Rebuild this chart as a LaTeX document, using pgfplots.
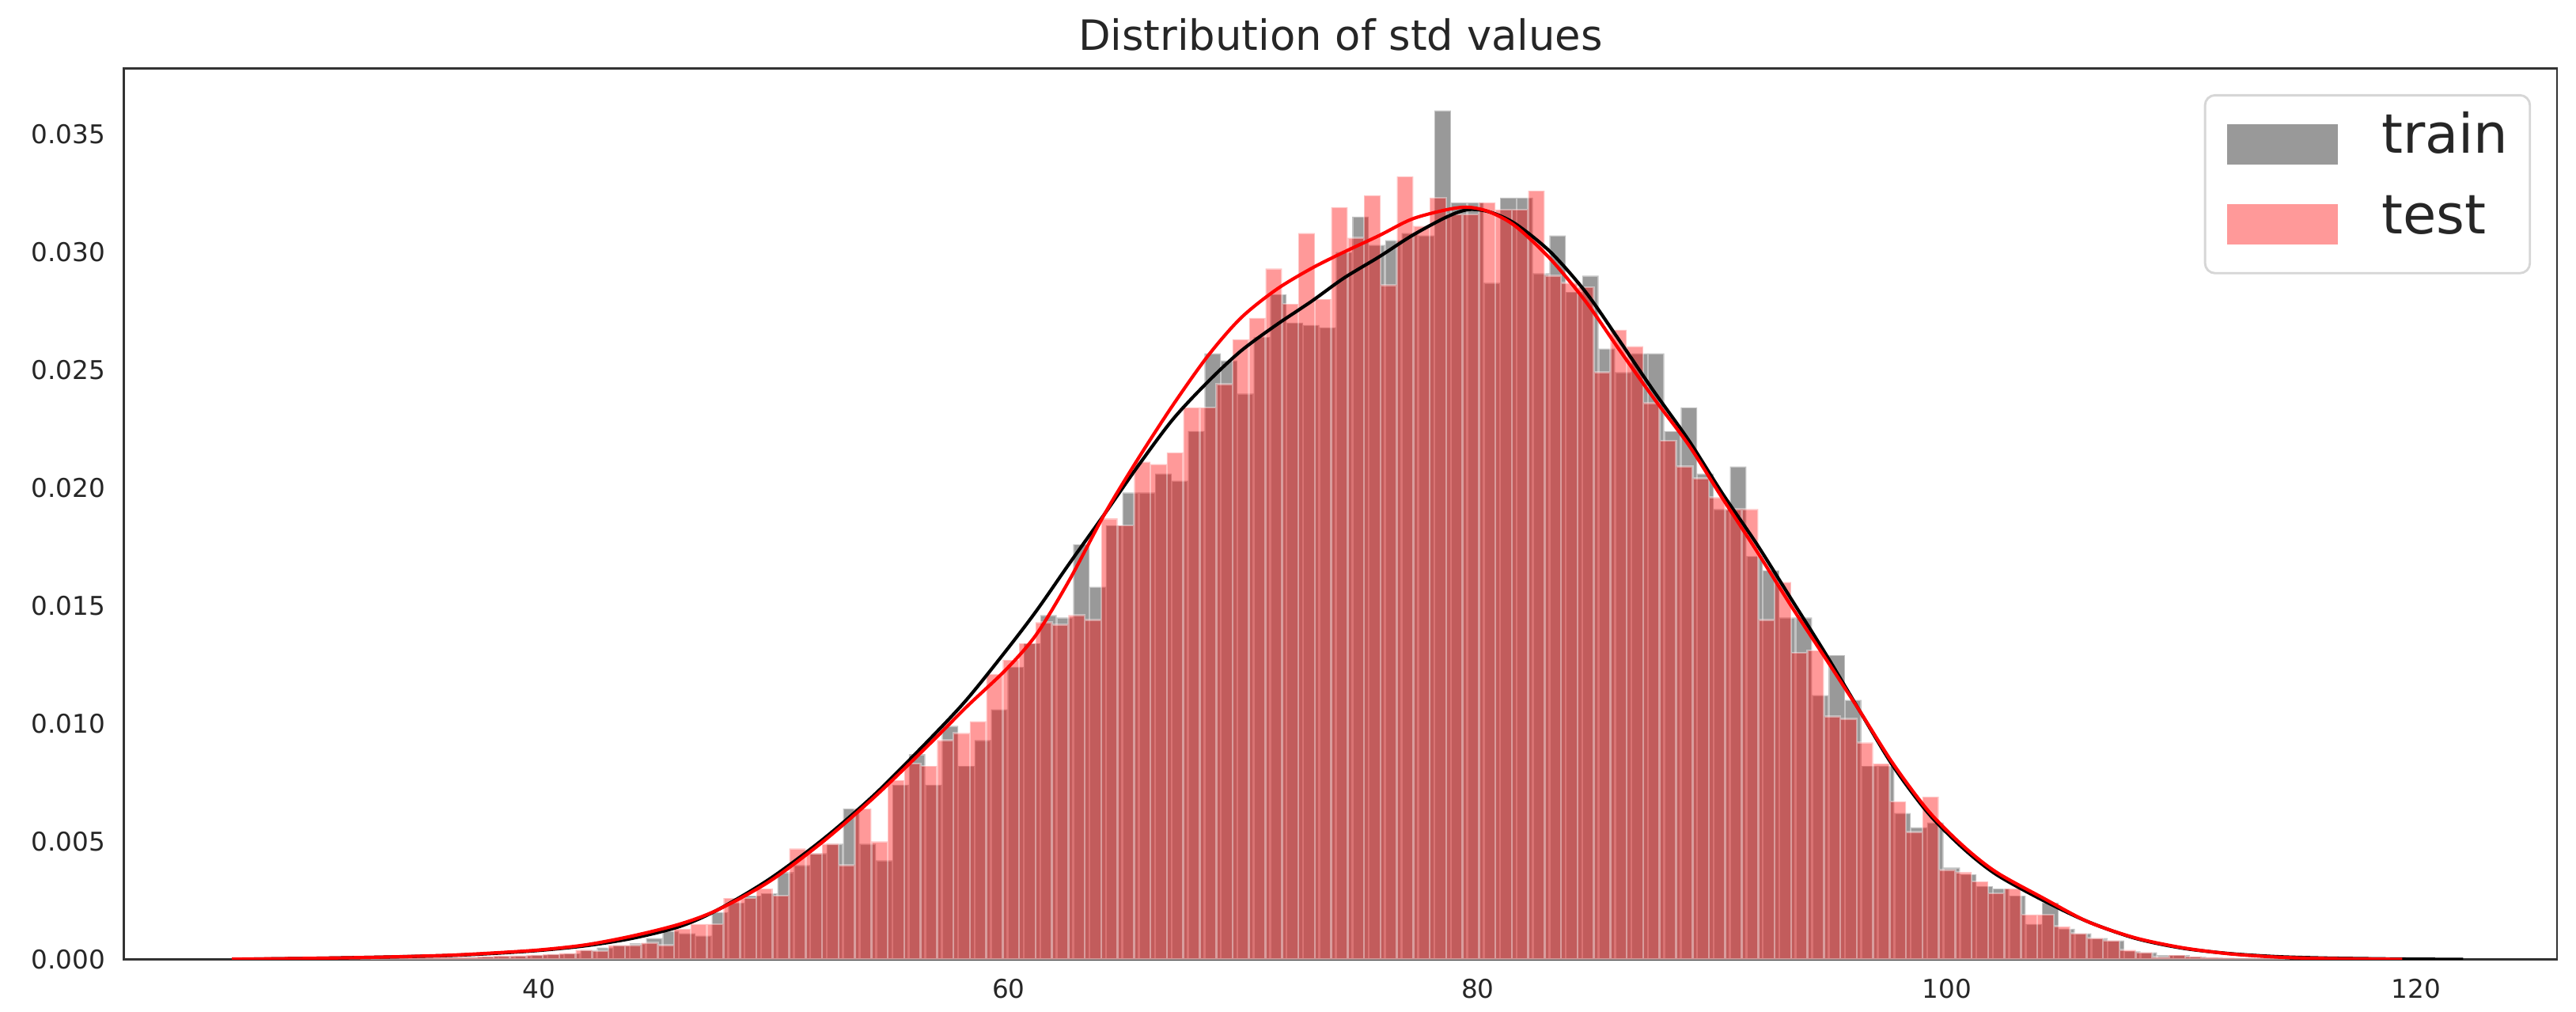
\documentclass[border=0pt]{standalone}
\usepackage{pgfplots}
\pgfplotsset{compat=1.18}
\usepackage{pgfplotstable}
\usepackage{fontspec}
\setmainfont{DejaVu Sans}
\definecolor{labelcol}{HTML}{262626}
\definecolor{framecol}{HTML}{333333}
\definecolor{legframe}{HTML}{D6D6D6}

\pgfplotstableread{
x xt train test
30.55 30.35 0.00002 0.00002
31.25 31.05 0.00002 0.00003
31.95 31.75 0.00003 0.00003
32.65 32.45 0.00003 0.00004
33.35 33.15 0.00004 0.00005
34.05 33.85 0.00005 0.00006
34.75 34.55 0.00006 0.00007
35.45 35.25 0.00007 0.00008
36.15 35.95 0.00008 0.00010
36.85 36.65 0.00010 0.00010
37.55 37.35 0.00012 0.00012
38.25 38.05 0.00014 0.00015
38.95 38.75 0.00015 0.00016
39.65 39.45 0.00018 0.00019
40.35 40.15 0.00022 0.00022
41.05 40.85 0.00025 0.00026
41.75 41.55 0.00040 0.00040
42.45 42.25 0.00050 0.00036
43.15 42.95 0.00060 0.00060
43.85 43.65 0.00068 0.00060
44.55 44.35 0.00090 0.00070
45.25 45.05 0.00120 0.00060
45.95 45.75 0.00110 0.00130
46.65 46.45 0.00100 0.00150
47.35 47.15 0.00200 0.00150
48.05 47.85 0.00240 0.00260
48.75 48.55 0.00270 0.00260
49.45 49.25 0.00280 0.00300
50.15 49.95 0.00370 0.00270
50.85 50.65 0.00400 0.00470
51.55 51.35 0.00450 0.00450
52.25 52.05 0.00490 0.00490
52.95 52.75 0.00640 0.00400
53.65 53.45 0.00490 0.00640
54.35 54.15 0.00420 0.00500
55.05 54.85 0.00740 0.00760
55.75 55.55 0.00870 0.00830
56.45 56.25 0.00740 0.00820
57.15 56.95 0.00990 0.00930
57.85 57.65 0.00820 0.00960
58.55 58.35 0.00930 0.01010
59.25 59.05 0.01060 0.01210
59.95 59.75 0.01240 0.01270
60.65 60.45 0.01340 0.01340
61.35 61.15 0.01460 0.01430
62.05 61.85 0.01450 0.01420
62.75 62.55 0.01760 0.01460
63.45 63.25 0.01580 0.01440
64.15 63.95 0.01840 0.01870
64.85 64.65 0.01980 0.01840
65.55 65.35 0.01980 0.02110
66.25 66.05 0.02060 0.02100
66.95 66.75 0.02030 0.02150
67.65 67.45 0.02240 0.02340
68.35 68.15 0.02570 0.02340
69.05 68.85 0.02540 0.02440
69.75 69.55 0.02400 0.02630
70.45 70.25 0.02640 0.02720
71.15 70.95 0.02820 0.02930
71.85 71.65 0.02700 0.02780
72.55 72.35 0.02690 0.03080
73.25 73.05 0.02680 0.02800
73.95 73.75 0.03000 0.03190
74.65 74.45 0.03150 0.03060
75.35 75.15 0.03030 0.03240
76.05 75.85 0.03050 0.02860
76.75 76.55 0.03080 0.03320
77.45 77.25 0.03070 0.03110
78.15 77.95 0.03600 0.03230
78.85 78.65 0.03210 0.03160
79.55 79.35 0.03210 0.03160
80.25 80.05 0.02870 0.03210
80.95 80.75 0.03230 0.03180
81.65 81.45 0.03230 0.03180
82.35 82.15 0.02910 0.03260
83.05 82.85 0.03070 0.02900
83.75 83.55 0.02830 0.02870
84.45 84.25 0.02900 0.02850
85.15 84.95 0.02590 0.02490
85.85 85.65 0.02490 0.02670
86.55 86.35 0.02570 0.02600
87.25 87.05 0.02570 0.02360
87.95 87.75 0.02240 0.02200
88.65 88.45 0.02340 0.02090
89.35 89.15 0.02060 0.02040
90.05 89.85 0.01910 0.01960
90.75 90.55 0.02090 0.01910
91.45 91.25 0.01710 0.01910
92.15 91.95 0.01650 0.01440
92.85 92.65 0.01450 0.01600
93.55 93.35 0.01450 0.01300
94.25 94.05 0.01120 0.01310
94.95 94.75 0.01290 0.01030
95.65 95.45 0.01100 0.01020
96.35 96.15 0.00820 0.00920
97.05 96.85 0.00820 0.00830
97.75 97.55 0.00620 0.00670
98.45 98.25 0.00560 0.00540
99.15 98.95 0.00580 0.00690
99.85 99.65 0.00390 0.00380
100.55 100.35 0.00360 0.00370
101.25 101.05 0.00310 0.00330
101.95 101.75 0.00300 0.00280
102.65 102.45 0.00270 0.00300
103.35 103.15 0.00150 0.00190
104.05 103.85 0.00240 0.00190
104.75 104.55 0.00130 0.00140
105.45 105.25 0.00110 0.00110
106.15 105.95 0.00090 0.00090
106.85 106.65 0.00080 0.00080
107.55 107.35 0.00035 0.00040
108.25 108.05 0.00030 0.00030
108.95 108.75 0.00018 0.00010
109.65 109.45 0.00018 0.00018
110.35 110.15 0.00012 0.00012
111.05 110.85 0.00008 0.00008
111.75 111.55 0.00006 0.00006
112.45 112.25 0.00005 0.00004
113.15 112.95 0.00003 0.00003
113.85 113.65 0.00002 0.00002
114.55 114.35 0 0
}\hist

\pgfplotstableread{
x y
27.5 0.00001
30 0.00004
33 0.00009
36 0.00016
38 0.00025
40 0.00038
42 0.00058
44 0.00090
46 0.00140
47.6 0.0021
49.8 0.0034
52.1 0.0051
54.3 0.0070
56.6 0.0093
58.2 0.0110
59.9 0.0131
61.2 0.0148
62.6 0.0168
64.1 0.0189
65.5 0.0209
67.0 0.0229
68.5 0.0245
69.9 0.0258
71.4 0.0269
72.9 0.0279
74.3 0.0289
75.8 0.0298
77.2 0.0307
78.7 0.0315
79.6 0.0318
80.5 0.0317
81.6 0.0312
83.1 0.0300
84.6 0.0283
86.0 0.0263
87.5 0.0241
89.0 0.0220
90.4 0.0198
91.9 0.0176
93.35 0.0153
94.8 0.0130
96.3 0.0105
97.7 0.0082
99.2 0.0062
100.7 0.0047
102.1 0.0036
104.1 0.0025
106 0.0016
108 0.00090
110 0.00048
112 0.00025
114 0.00012
116 0.00006
118 0.00003
120 0.00001
122 0.0
}\kdetrain

\pgfplotstableread{
x y
26.9 0.00001
30 0.00004
33 0.00009
36 0.00017
38 0.00027
40 0.00040
42 0.00062
44 0.00100
46 0.00150
47.6 0.0021
49.8 0.0033
52.1 0.0050
54.3 0.0069
56.6 0.0091
58.2 0.0107
59.9 0.0123
61.2 0.0138
62.6 0.0161
64.1 0.0189
65.5 0.0212
67.0 0.0235
68.5 0.0256
69.9 0.0272
71.4 0.0284
72.9 0.0293
74.3 0.0300
75.8 0.0307
77.2 0.0314
78.7 0.0318
79.6 0.0319
80.5 0.0317
81.6 0.0311
83.1 0.0297
84.6 0.0279
86.0 0.0259
87.5 0.0238
89.0 0.0218
90.4 0.0196
91.9 0.0173
93.35 0.0150
94.8 0.0128
96.3 0.0105
97.7 0.0083
99.2 0.0063
100.7 0.0048
102.1 0.0037
104.1 0.0026
106 0.0016
108 0.00092
110 0.0005
112 0.00024
114 0.0001
116 0.00004
119.4 0.0
}\kdetest

\begin{document}
\begin{tikzpicture}
\begin{axis}[
  scale only axis,
  width=961pt, height=352pt,
  xmin=22.3, xmax=126.0,
  ymin=0, ymax=0.0378,
  axis line style={framecol, line width=0.9pt},
  major tick length=0pt,
  xtick={40,60,80,100,120},
  ytick={0,0.005,0.01,0.015,0.02,0.025,0.03,0.035},
  scaled y ticks=false,
  /pgf/number format/assume math mode=true,
  yticklabel style={/pgf/number format/fixed, /pgf/number format/fixed zerofill, /pgf/number format/precision=3,
    font=\fontsize{10.2}{12}\selectfont, text=labelcol, xshift=-3.9pt},
  xticklabel style={font=\fontsize{10.2}{12}\selectfont, text=labelcol, yshift=-4.2pt},
  title={Distribution of std values},
  every axis title/.style={at={(0.5,1)}, anchor=base, yshift=7.2pt, font=\fontsize{16.5}{20}\selectfont, text=labelcol},
  legend style={at={(1,1)}, anchor=north east, xshift=-10.25pt, yshift=-10.25pt,
    draw=legframe, line width=0.9pt, rounded corners=4pt, fill=white,
    font=\fontsize{21.5}{25}\selectfont, text=labelcol,
    inner xsep=8.6pt, inner ysep=11.35pt, row sep=15.8pt, column sep=17.2pt,
    nodes={inner sep=0pt, text height=0.72em, text depth=0pt}},
  legend cell align=left,
]
\addplot[ybar interval, fill=black, fill opacity=0.4, draw=white, draw opacity=0.4, line width=0.8pt, forget plot]
  table[x=x, y=train]{\hist};
\addplot[ybar interval, fill=red, fill opacity=0.4, draw=white, draw opacity=0.4, line width=0.8pt, forget plot]
  table[x=xt, y=test]{\hist};
\addplot[black, line width=1.3pt, smooth, no markers, forget plot] table[x=x, y=y]{\kdetrain};
\addplot[red, line width=1.3pt, smooth, no markers, forget plot] table[x=x, y=y]{\kdetest};

\addlegendimage{legend image code/.code={\fill[black!40, sharp corners] (0pt,-7.5pt) rectangle (43pt,7.5pt);}}
\addlegendentry{train}
\addlegendimage{legend image code/.code={\fill[red!40, sharp corners] (0pt,-7.5pt) rectangle (43pt,7.5pt);}}
\addlegendentry{test}
\end{axis}
\path ([shift={(-49pt,-20.6pt)}]current axis.south west) rectangle ([shift={(7.5pt,26.9pt)}]current axis.north east);
\end{tikzpicture}
\end{document}
